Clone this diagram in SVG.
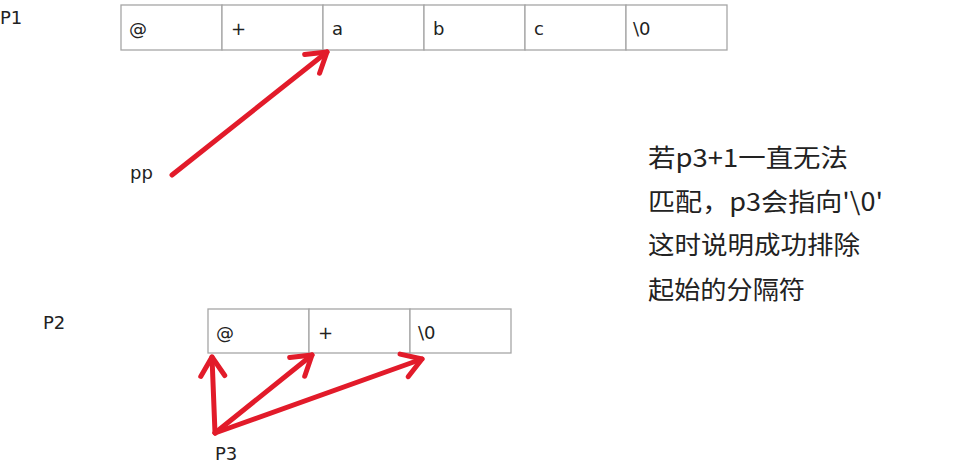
<svg xmlns="http://www.w3.org/2000/svg" width="971" height="466" viewBox="0 0 971 466">
<defs>
<style>
.cell{fill:#fff;stroke:#a6a6a6;stroke-width:1.3}
.t{font-family:"DejaVu Sans","Open Sans",sans-serif;font-size:18px;fill:#222}
.cn{font-family:"Noto Sans CJK SC","Noto Sans",sans-serif;font-size:25px;fill:#222}
.arr{fill:none;stroke:#e21b2a;stroke-width:5;stroke-linecap:round;stroke-linejoin:round}
</style>
<marker id="ah" markerUnits="userSpaceOnUse" markerWidth="34" markerHeight="34" viewBox="0 0 34 34" refX="28" refY="17" orient="auto" overflow="visible">
<path d="M9,5 L28,17 L9,29" fill="none" stroke="#e21b2a" stroke-width="5" stroke-linecap="round" stroke-linejoin="round"/>
</marker>
</defs>
<rect width="971" height="466" fill="#fff"/>
<g id="P1">
<text class="t" x="0" y="24">P1</text>
<rect class="cell" x="121" y="5" width="101" height="45"/>
<rect class="cell" x="222" y="5" width="101" height="45"/>
<rect class="cell" x="323" y="5" width="101" height="45"/>
<rect class="cell" x="424" y="5" width="101" height="45"/>
<rect class="cell" x="525" y="5" width="101" height="45"/>
<rect class="cell" x="626" y="5" width="101" height="45"/>
<text class="t" x="129" y="35">@</text>
<text class="t" x="231" y="35">+</text>
<text class="t" x="332" y="35">a</text>
<text class="t" x="433" y="35">b</text>
<text class="t" x="534" y="35">c</text>
<text class="t" x="633" y="35">\0</text>
</g>
<g id="pp"><text class="t" x="130" y="179">pp</text></g>
<g id="P2">
<text class="t" x="43" y="329">P2</text>
<rect class="cell" x="208" y="309" width="101" height="44"/>
<rect class="cell" x="309" y="309" width="101" height="44"/>
<rect class="cell" x="410" y="309" width="101" height="44"/>
<text class="t" x="216" y="339">@</text>
<text class="t" x="318" y="339">+</text>
<text class="t" x="418" y="339">\0</text>
</g>
<g id="P3"><text class="t" x="215" y="460">P3</text></g>
<g id="note">
<text class="cn" x="648" y="167" textLength="200" lengthAdjust="spacingAndGlyphs">若p3+1一直无法</text>
<text class="cn" x="648" y="211" textLength="235" lengthAdjust="spacingAndGlyphs">匹配，p3会指向'\0'</text>
<text class="cn" x="648" y="254" textLength="212" lengthAdjust="spacingAndGlyphs">这时说明成功排除</text>
<text class="cn" x="648" y="299" textLength="157" lengthAdjust="spacingAndGlyphs">起始的分隔符</text>
</g>
<g id="connectors">
<path class="arr" d="M172,175 L327,52" marker-end="url(#ah)"/>
<path class="arr" d="M215,433 L212,357" marker-end="url(#ah)"/>
<path class="arr" d="M215,433 L312,355" marker-end="url(#ah)"/>
<path class="arr" d="M215,433 L422,359" marker-end="url(#ah)"/>
</g>
</svg>
